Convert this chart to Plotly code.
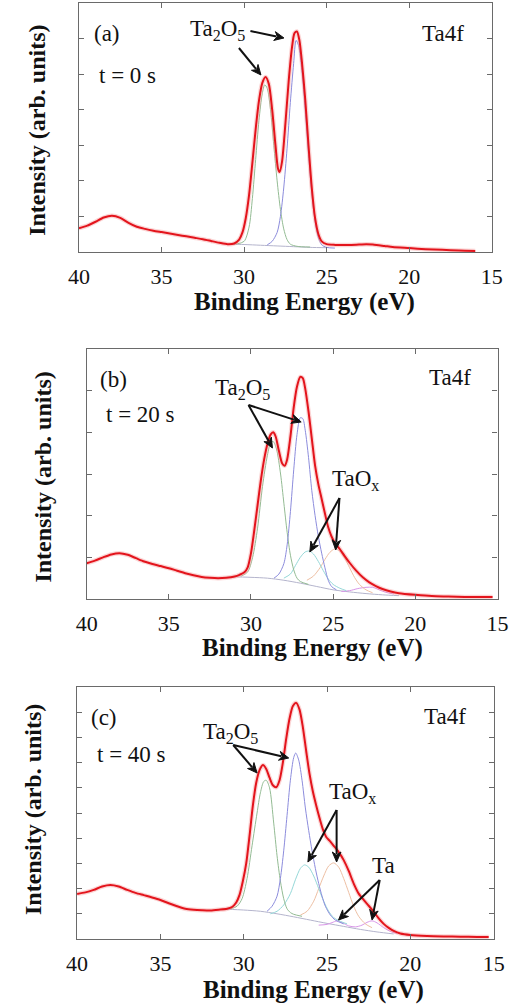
import math
import plotly.graph_objects as go

W, H = 520, 1006

# ---------------- data ----------------
# Panel (a) t = 0 s
E_a = [40.0, 39.5, 39.0, 38.5, 38.0, 37.5, 37.0, 36.5, 36.0, 35.5, 35.0, 34.5, 34.0, 33.5, 33.0, 32.5, 32.0, 31.5, 31.0, 30.6, 30.3, 30.1, 29.9, 29.7, 29.5, 29.3, 29.1, 28.9, 28.7, 28.5, 28.3, 28.1, 27.95, 27.85, 27.7, 27.5, 27.3, 27.1, 26.95, 26.8, 26.65, 26.5, 26.3, 26.1, 25.9, 25.7, 25.5, 25.3, 25.0, 24.5, 24.0, 23.5, 23.0, 22.6, 22.2, 21.5, 21.0, 20.0, 19.0, 18.0, 17.0, 16.0]
I_a = [0.67, 0.74, 0.85, 0.97, 1.02, 0.96, 0.82, 0.71, 0.65, 0.60, 0.56, 0.52, 0.48, 0.44, 0.40, 0.36, 0.31, 0.26, 0.22, 0.24, 0.35, 0.55, 0.95, 1.6, 2.5, 3.45, 4.25, 4.75, 4.92, 4.72, 4.0, 3.0, 2.35, 2.25, 2.55, 3.6, 4.8, 5.75, 6.15, 6.2, 5.95, 5.35, 4.3, 3.0, 1.8, 0.95, 0.5, 0.3, 0.22, 0.2, 0.2, 0.2, 0.21, 0.22, 0.21, 0.17, 0.14, 0.11, 0.08, 0.06, 0.04, 0.03]
E_a_g = [30.5, 30.0, 29.7, 29.5, 29.3, 29.1, 28.9, 28.75, 28.6, 28.4, 28.2, 28.0, 27.8, 27.6, 27.4, 27.2, 26.8, 26.0]
I_a_g = [0.22, 0.3, 0.7, 1.5, 2.6, 3.7, 4.45, 4.7, 4.6, 4.0, 3.0, 2.0, 1.2, 0.65, 0.35, 0.22, 0.16, 0.14]
E_a_b = [28.6, 28.3, 28.0, 27.8, 27.6, 27.4, 27.2, 27.0, 26.85, 26.7, 26.5, 26.3, 26.1, 25.9, 25.7, 25.5, 25.3, 25.0, 24.5]
I_a_b = [0.2, 0.3, 0.55, 1.0, 1.8, 2.9, 4.2, 5.3, 5.95, 5.8, 5.1, 4.0, 2.75, 1.65, 0.85, 0.4, 0.2, 0.13, 0.11]
E_a_bg = [31.0, 30.0, 29.0, 28.0, 27.0, 26.0, 25.0]
I_a_bg = [0.22, 0.21, 0.19, 0.17, 0.15, 0.13, 0.12]

# Panel (b) t = 20 s
E_b = [40.0, 39.5, 39.0, 38.5, 38.0, 37.5, 37.0, 36.5, 36.0, 35.5, 35.0, 34.5, 34.0, 33.5, 33.0, 32.5, 32.0, 31.5, 31.0, 30.7, 30.4, 30.2, 30.0, 29.8, 29.6, 29.4, 29.2, 29.0, 28.8, 28.65, 28.5, 28.3, 28.1, 27.95, 27.8, 27.6, 27.4, 27.2, 27.0, 26.85, 26.7, 26.5, 26.3, 26.1, 25.9, 25.7, 25.5, 25.3, 25.1, 24.9, 24.6, 24.3, 24.0, 23.6, 23.2, 22.8, 22.4, 22.0, 21.5, 21.0, 20.0, 19.0, 18.0, 17.0, 16.0, 15.3]
I_b = [0.86, 0.92, 1.0, 1.07, 1.1, 1.06, 0.98, 0.9, 0.84, 0.79, 0.74, 0.68, 0.62, 0.57, 0.53, 0.51, 0.5, 0.51, 0.54, 0.58, 0.64, 0.76, 1.1, 1.65, 2.25, 2.85, 3.35, 3.72, 3.95, 4.0, 3.9, 3.55, 3.25, 3.2, 3.35, 3.9, 4.6, 5.1, 5.33, 5.3, 5.05, 4.5, 3.85, 3.2, 2.75, 2.4, 2.05, 1.72, 1.5, 1.35, 1.2, 1.03, 0.87, 0.68, 0.52, 0.4, 0.31, 0.24, 0.18, 0.14, 0.1, 0.07, 0.06, 0.05, 0.05, 0.05]
E_b_g = [30.6, 30.2, 29.9, 29.6, 29.3, 29.0, 28.8, 28.65, 28.45, 28.2, 28.0, 27.8, 27.6, 27.4, 27.2, 27.0, 26.5]
I_b_g = [0.55, 0.65, 1.0, 1.7, 2.7, 3.45, 3.75, 3.78, 3.6, 3.0, 2.3, 1.6, 1.05, 0.7, 0.5, 0.42, 0.35]
E_b_b = [28.6, 28.3, 28.0, 27.8, 27.6, 27.4, 27.2, 27.0, 26.85, 26.7, 26.5, 26.3, 26.1, 25.9, 25.7, 25.5, 25.3, 25.1, 24.8]
I_b_b = [0.5, 0.6, 0.85, 1.3, 2.1, 3.1, 3.95, 4.35, 4.33, 4.05, 3.4, 2.6, 2.0, 1.5, 1.1, 0.75, 0.45, 0.3, 0.22]
E_b_c = [28.0, 27.6, 27.3, 27.0, 26.7, 26.45, 26.2, 25.9, 25.6, 25.3, 25.0, 24.6, 24.2]
I_b_c = [0.5, 0.6, 0.8, 1.0, 1.13, 1.15, 1.08, 0.9, 0.68, 0.48, 0.35, 0.26, 0.2]
E_b_o = [26.6, 26.2, 25.8, 25.5, 25.2, 24.9, 24.6, 24.3, 24.0, 23.7, 23.4, 23.0, 22.6]
I_b_o = [0.45, 0.55, 0.75, 0.95, 1.12, 1.2, 1.15, 0.98, 0.75, 0.52, 0.35, 0.22, 0.15]
E_b_m = [24.5, 24.0, 23.5, 23.0, 22.6, 22.2, 21.8, 21.3]
I_b_m = [0.18, 0.2, 0.25, 0.28, 0.28, 0.22, 0.16, 0.12]
E_b_bg = [31.5, 31.0, 30.0, 29.0, 28.0, 27.0, 26.0, 25.0, 24.0, 23.0, 22.0, 21.0]
I_b_bg = [0.52, 0.53, 0.52, 0.5, 0.45, 0.38, 0.3, 0.22, 0.17, 0.13, 0.1, 0.08]

# Panel (c) t = 40 s
E_c = [40.0, 39.5, 39.0, 38.5, 38.0, 37.5, 37.0, 36.5, 36.0, 35.5, 35.0, 34.5, 34.0, 33.5, 33.0, 32.5, 32.0, 31.5, 31.0, 30.7, 30.45, 30.25, 30.05, 29.85, 29.65, 29.45, 29.25, 29.05, 28.85, 28.65, 28.45, 28.25, 28.05, 27.85, 27.65, 27.45, 27.25, 27.05, 26.85, 26.65, 26.45, 26.25, 26.05, 25.85, 25.65, 25.45, 25.25, 25.05, 24.85, 24.6, 24.3, 24.0, 23.7, 23.4, 23.1, 22.8, 22.5, 22.2, 21.9, 21.6, 21.3, 21.0, 20.6, 20.0, 19.0, 18.0, 17.0, 16.0, 15.3]
I_c = [1.79, 1.85, 1.95, 2.08, 2.14, 2.08, 1.95, 1.83, 1.74, 1.65, 1.55, 1.42, 1.3, 1.2, 1.16, 1.14, 1.13, 1.16, 1.2, 1.27, 1.45, 1.75, 2.3, 3.0, 4.1, 5.3, 6.2, 6.7, 6.9, 6.75, 6.4, 6.1, 6.02, 6.3, 7.0, 7.95, 8.75, 9.25, 9.37, 9.1, 8.4, 7.45, 6.55, 5.85, 5.3, 4.8, 4.35, 4.05, 3.9, 3.7, 3.45, 3.13, 2.7, 2.2, 1.8, 1.55, 1.32, 1.08, 0.82, 0.6, 0.44, 0.32, 0.22, 0.16, 0.12, 0.1, 0.09, 0.08, 0.08]
E_c_g = [30.8, 30.4, 30.1, 29.8, 29.5, 29.2, 29.0, 28.8, 28.65, 28.45, 28.2, 28.0, 27.8, 27.6, 27.4, 27.2, 27.0, 26.5]
I_c_g = [1.2, 1.3, 1.6, 2.4, 3.7, 5.0, 5.8, 6.25, 6.3, 6.0, 4.6, 3.3, 2.3, 1.6, 1.2, 1.05, 0.98, 0.9]
E_c_b = [28.6, 28.3, 28.0, 27.8, 27.6, 27.4, 27.2, 27.0, 26.88, 26.7, 26.5, 26.3, 26.1, 25.9, 25.7, 25.5, 25.3, 25.1, 24.8, 24.5, 24.0]
I_c_b = [1.1, 1.3, 1.7, 2.4, 3.5, 4.9, 6.3, 7.2, 7.38, 7.1, 6.3, 5.2, 4.3, 3.5, 2.8, 2.2, 1.7, 1.3, 0.95, 0.75, 0.6]
E_c_c = [28.4, 28.0, 27.6, 27.2, 26.9, 26.6, 26.35, 26.1, 25.8, 25.5, 25.2, 24.9, 24.6, 24.2, 23.8]
I_c_c = [1.0, 1.1, 1.35, 1.8, 2.35, 2.8, 2.94, 2.85, 2.5, 2.0, 1.5, 1.1, 0.85, 0.7, 0.6]
E_c_o = [26.6, 26.2, 25.8, 25.5, 25.2, 24.9, 24.6, 24.3, 24.0, 23.7, 23.4, 23.1, 22.7, 22.3]
I_c_o = [0.95, 1.1, 1.5, 2.0, 2.5, 2.9, 3.02, 2.85, 2.4, 1.85, 1.3, 0.9, 0.6, 0.45]
E_c_m = [25.5, 25.0, 24.7, 24.4, 24.1, 23.7, 23.3, 22.9, 22.6, 22.3, 22.0, 21.6, 21.2, 20.8]
I_c_m = [0.55, 0.58, 0.65, 0.72, 0.65, 0.52, 0.48, 0.55, 0.66, 0.72, 0.64, 0.45, 0.3, 0.22]
E_c_bg = [31.0, 30.0, 29.0, 28.0, 27.0, 26.0, 25.0, 24.0, 23.0, 22.0, 21.0]
I_c_bg = [1.18, 1.15, 1.1, 1.0, 0.88, 0.75, 0.62, 0.5, 0.38, 0.28, 0.2]

x_ticks = [40, 35, 30, 25, 20, 15]
x_tick_text = ["40", "35", "30", "25", "20", "15"]

# ---------------- styling ----------------
RED = "#e3141c"
HALO = "rgba(245,150,150,0.40)"
COMP_COLORS = {"g": "#93bb93", "b": "#8c8cdc", "c": "#95d8d8", "o": "#eec0a4", "m": "#d996e8", "bg": "#b4b4cc"}
SERIF = "Liberation Serif"


def pxx(x):
    return x / W


def pxy(y):
    return 1 - y / H


fig = go.Figure()

panels = [
    ("x", "y", E_a, I_a, [("bg", E_a_bg, I_a_bg), ("g", E_a_g, I_a_g), ("b", E_a_b, I_a_b)]),
    ("x2", "y2", E_b, I_b, [("bg", E_b_bg, I_b_bg), ("m", E_b_m, I_b_m), ("o", E_b_o, I_b_o), ("c", E_b_c, I_b_c), ("g", E_b_g, I_b_g), ("b", E_b_b, I_b_b)]),
    ("x3", "y3", E_c, I_c, [("bg", E_c_bg, I_c_bg), ("m", E_c_m, I_c_m), ("o", E_c_o, I_c_o), ("c", E_c_c, I_c_c), ("g", E_c_g, I_c_g), ("b", E_c_b, I_c_b)]),
]

for xa, ya, E, I, comps in panels:
    for key, ce, ci in comps:
        fig.add_trace(go.Scatter(x=ce, y=ci, xaxis=xa, yaxis=ya, mode="lines",
                                 line=dict(color=COMP_COLORS[key], width=1, shape="spline", smoothing=0.8),
                                 hoverinfo="skip", showlegend=False))
    fig.add_trace(go.Scatter(x=E, y=I, xaxis=xa, yaxis=ya, mode="lines",
                             line=dict(color=HALO, width=4.5, shape="spline", smoothing=0.7),
                             hoverinfo="skip", showlegend=False))
    fig.add_trace(go.Scatter(x=E, y=I, xaxis=xa, yaxis=ya, mode="lines",
                             line=dict(color=RED, width=2, shape="spline", smoothing=0.7),
                             showlegend=False))

# axes boxes in pixels: (left, right, top, bottom), y-range max
boxes = [(71, 502, 3, 252, 7), (79, 508, 349, 599, 6), (69, 504, 687, 939, 10)]

axis_common = dict(showline=True, linecolor="#6a6a6a", linewidth=1.2, mirror="ticks",
                   ticks="inside", ticklen=5, tickcolor="#6a6a6a", showgrid=False, zeroline=False)

layout = dict(width=W, height=H, margin=dict(l=0, r=0, t=0, b=0),
              paper_bgcolor="white", plot_bgcolor="white", showlegend=False)

for i, (l, r, t, b, ymax) in enumerate(boxes):
    sfx = "" if i == 0 else str(i + 1)
    layout["xaxis" + sfx] = dict(axis_common, domain=[pxx(l), pxx(r)], range=[40, 15],
                                 tickvals=x_ticks, ticktext=x_tick_text,
                                 tickfont=dict(family=SERIF, size=22, color="#111"),
                                 anchor="y" + sfx, ticklabelstandoff=4)
    layout["yaxis" + sfx] = dict(axis_common, domain=[pxy(b), pxy(t)], range=[0, ymax],
                                 dtick=1, showticklabels=False, anchor="x" + sfx)

fig.update_layout(**layout)

ann = []
shapes = []


def text(x, y, s, size=23, bold=False, angle=0):
    if bold:
        s = "<b>" + s + "</b>"
    ann.append(dict(x=pxx(x), y=pxy(y), xref="paper", yref="paper", text=s, showarrow=False,
                    xanchor="center", yanchor="middle", textangle=angle,
                    font=dict(family=SERIF, size=size, color="#111")))


def arrow(sx, sy, tx, ty, head=10.0, half=4.5):
    dx, dy = tx - sx, ty - sy
    n = math.hypot(dx, dy)
    ux, uy = dx / n, dy / n
    bx, by = tx - ux * head, ty - uy * head
    px_, py_ = -uy, ux
    shapes.append(dict(type="line", xref="paper", yref="paper",
                       x0=pxx(sx), y0=pxy(sy), x1=pxx(bx + ux * 2), y1=pxy(by + uy * 2),
                       line=dict(color="#111", width=2)))
    path = "M {:.5f},{:.5f} L {:.5f},{:.5f} L {:.5f},{:.5f} L {:.5f},{:.5f} Z".format(
        pxx(tx), pxy(ty),
        pxx(bx + px_ * half), pxy(by + py_ * half),
        pxx(tx - ux * head * 0.7), pxy(ty - uy * head * 0.7),
        pxx(bx - px_ * half), pxy(by - py_ * half))
    shapes.append(dict(type="path", xref="paper", yref="paper", path=path,
                       fillcolor="#111", line=dict(color="#111", width=1)))


TA2O5 = "Ta<sub>2</sub>O<sub>5</sub>"
TAOX = "TaO<sub>x</sub>"

# panel (a)
text(100, 33, "(a)")
text(122, 76, "t = 0 s")
text(216, 30, TA2O5)
text(451, 33, "Ta4f")
arrow(238, 48, 261, 75)
arrow(250, 31, 285, 38)

# panel (b)
text(107, 379, "(b)")
text(135, 414, "t = 20 s")
text(242, 389, TA2O5)
text(360, 480, TAOX)
text(458, 377, "Ta4f")
arrow(248, 405, 273, 448)
arrow(248, 405, 303, 422)
arrow(343, 498, 312, 552)
arrow(343, 498, 339, 550)

# panel (c)
text(97, 717, "(c)")
text(126, 754, "t = 40 s")
text(229, 733, TA2O5)
text(357, 793, TAOX)
text(389, 865, "Ta")
text(453, 716, "Ta4f")
arrow(232, 745, 257, 773)
arrow(232, 745, 290, 758)
arrow(340, 810, 310, 862)
arrow(340, 810, 340, 862)
arrow(385, 880, 342, 920)
arrow(385, 880, 377, 920)

# axis titles
for cx, cy in [(306, 302), (315, 648), (316, 990)]:
    text(cx, cy, "Binding Energy (eV)", size=25, bold=True)
for cx, cy in [(27, 130), (33, 477), (23, 810)]:
    text(cx, cy, "Intensity (arb. units)", size=24, bold=True, angle=-90)

fig.update_layout(annotations=ann, shapes=shapes)
fig.write_html("out.html")
